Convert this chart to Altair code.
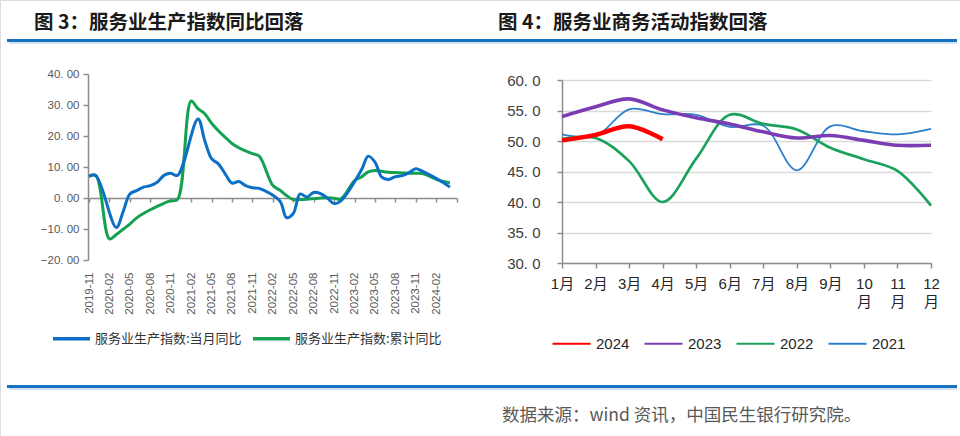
import altair as alt
import pandas as pd

# ---------------- Figure 3: services production index (YoY, %) ----------------
months = list(pd.period_range("2019-11", "2024-05", freq="M").strftime("%Y-%m"))
x_ticks = ["2019-11", "2020-02", "2020-05", "2020-08", "2020-11", "2021-02",
           "2021-05", "2021-08", "2021-11", "2022-02", "2022-05", "2022-08",
           "2022-11", "2023-02", "2023-05", "2023-08", "2023-11", "2024-02"]
axis_end = "2024-05"
y_ticks_left = [-20, -10, 0, 10, 20, 30, 40]

# 当月同比 (no Jan/Feb single-month values)
cur = [7.0, 7.2, None, None, -9.5, -4.5, 1.3, 2.4, 3.5, 4.0, 5.1, 7.3,
       8.0, 7.3, None, None, 25.5, 18.5, 12.7, 11.0, 7.8, 4.8, 5.3, 4.0,
       3.3, 3.1, None, None, -0.9, -6.3, -5.0, 1.3, 0.3, 1.8, 1.4, 0.0,
       -1.8, -0.9, None, None, 9.0, 13.5, 11.6, 6.7, 6.0, 6.9, 7.2, 8.2,
       9.4, 8.6, None, None, 5.0, 3.5, None]
# 累计同比
cum = [7.0, 7.3, None, -13.2, -11.8, -10.1, -8.4, -6.4, -5.0, -3.8, -2.7, -1.7,
       -0.9, -0.5, None, 31.3, 28.8, 27.2, 24.1, 21.7, 19.6, 17.6, 16.2, 15.2,
       14.3, 13.5, None, 4.0, 2.6, 0.8, -0.5, -0.5, -0.4, -0.2, 0.0, 0.1,
       -0.1, -0.3, None, 5.6, 6.8, 8.4, 8.9, 8.6, 8.3, 8.2, 8.1, 8.0,
       8.0, 7.9, None, 6.0, 5.3, 4.9, None]
series_left = ["服务业生产指数:当月同比", "服务业生产指数:累计同比"]
colors_left = ["#0B6FC6", "#14A152"]

# ---------------- Figure 4: services business activity index ----------------
month_labels = ["1月", "2月", "3月", "4月", "5月", "6月",
                "7月", "8月", "9月", "10月", "11月", "12月"]
years = ["2024", "2023", "2022", "2021"]
v2024 = [50.1, 51.0, 52.4, 50.3]
v2023 = [54.0, 55.6, 56.9, 55.1, 53.8, 52.8, 51.5, 50.5, 50.9, 50.1, 49.3, 49.3]
v2022 = [50.3, 50.5, 46.7, 40.0, 47.1, 54.3, 52.8, 51.9, 48.9, 47.0, 45.1, 39.4]
v2021 = [51.1, 50.8, 55.2, 54.4, 54.3, 52.3, 52.5, 45.2, 52.4, 51.6, 51.1, 52.0]
colors_right = ["#FF0000", "#7B3DB3", "#1AA25C", "#2C7FCB"]
widths_right = [4.5, 1.8, 1.8, 1.8]
y_ticks_right = [30, 35, 40, 45, 50, 55, 60]

title_left = "图 3：服务业生产指数同比回落"
title_right = "图 4：服务业商务活动指数回落"
source_note = "数据来源：wind 资讯，中国民生银行研究院。"

# ---------------- tables ----------------
rows = []
for name, vals in zip(series_left, [cur, cum]):
    for m, v in zip(months, vals):
        if v is not None:
            rows.append({"month": m, "series": name, "value": v})
left_df = pd.DataFrame(rows)

rows = []
for yr, vals in zip(["2021", "2022", "2023", "2024"], [v2021, v2022, v2023, v2024]):
    for m, v in zip(month_labels, vals):
        rows.append({"month": m, "year": yr, "value": v})
right_df = pd.DataFrame(rows)

CJK = "Noto Sans CJK SC"
LAT = "Liberation Sans, Noto Sans CJK SC"
H = 436

# ---------------- left chart ----------------
x_left = alt.X(
    "month:O",
    scale=alt.Scale(type="point", domain=months, range=[89, 456.7], padding=0),
    axis=alt.Axis(orient="bottom", offset=198 - H, values=x_ticks + [axis_end],
                  labelExpr=f"datum.value == '{axis_end}' ? '' : datum.value",
                  labelAngle=-90, labelPadding=70, tickSize=4, tickWidth=1.5,
                  domainWidth=1.5, domainColor="#8c8c8c", tickColor="#8c8c8c",
                  labelColor="#595959", labelFont=LAT, labelFontSize=11.5,
                  labelOverlap=False, grid=False, title=None),
)
y_left = alt.Y(
    "value:Q",
    scale=alt.Scale(domain=[-20, 40], range=[260, 74], nice=False, zero=False),
    axis=alt.Axis(orient="left", offset=-88, values=y_ticks_left,
                  labelExpr="replace(format(datum.value, '.2f'), '.', '. ')",
                  tickSize=5, tickWidth=1.5, domainWidth=1.5, labelPadding=4,
                  domainColor="#8c8c8c", tickColor="#8c8c8c",
                  labelColor="#595959", labelFont=LAT, labelFontSize=11.5,
                  grid=False, title=None),
)
color_left = alt.Color(
    "series:N",
    scale=alt.Scale(domain=series_left, range=colors_left),
    legend=alt.Legend(orient="none", legendX=51, legendY=318, direction="horizontal",
                      title=None, symbolType="stroke", symbolSize=1369,
                      symbolStrokeWidth=3.5, labelFont=CJK, labelFontSize=13,
                      labelColor="#333333", labelOffset=3, columnPadding=4,
                      padding=0),
)
base_left = alt.Chart(left_df).mark_line(strokeWidth=3, interpolate="catmull-rom").encode(
    x=x_left, y=y_left, color=color_left
)
left = alt.layer(
    base_left.transform_filter(alt.datum.series == series_left[1]),
    base_left.transform_filter(alt.datum.series == series_left[0]),
)

# ---------------- right chart ----------------
right = alt.Chart(right_df).mark_line(interpolate="catmull-rom").encode(
    x=alt.X("month:O",
            scale=alt.Scale(type="point", domain=month_labels, range=[562, 931], padding=0),
            axis=alt.Axis(orient="bottom", offset=263 - H, labelAngle=0,
                          labelExpr="length(datum.value) > 2 ? [slice(datum.value, 0, 2), '月'] : datum.value",
                          labelLineHeight=18, tickSize=5, tickWidth=1.5, domainWidth=1.5,
                          labelPadding=8, domainColor="#8c8c8c", tickColor="#8c8c8c",
                          labelColor="#262626", labelFont=LAT, labelFontSize=15,
                          labelOverlap=False, grid=False, title=None)),
    y=alt.Y("value:Q",
            scale=alt.Scale(domain=[30, 60], range=[263, 80], nice=False, zero=False),
            axis=alt.Axis(orient="left", offset=-562, values=y_ticks_right,
                          labelExpr="replace(format(datum.value, '.1f'), '.', '. ')",
                          grid=True, gridColor="#d9d9d9", gridWidth=1.5,
                          tickSize=5, tickWidth=1.5, domainWidth=1.5, labelPadding=17,
                          domainColor="#8c8c8c", tickColor="#8c8c8c",
                          labelColor="#404040", labelFont=LAT, labelFontSize=15,
                          title=None)),
    color=alt.Color("year:N", scale=alt.Scale(domain=years, range=colors_right),
                    legend=alt.Legend(orient="none", legendX=551, legendY=323,
                                      direction="horizontal", title=None,
                                      symbolType="stroke", symbolSize=1444,
                                      symbolStrokeWidth=2.2,
                                      labelFont=LAT, labelFontSize=15,
                                      labelColor="#262626", labelOffset=4,
                                      columnPadding=10, padding=0)),
    strokeWidth=alt.StrokeWidth("year:N", scale=alt.Scale(domain=years, range=widths_right),
                                legend=None),
)

# ---------------- decorations ----------------
one = pd.DataFrame({"k": [0]})
rule_top = alt.Chart(one).mark_rule(color="#1671C3", strokeWidth=3).encode(
    x=alt.value(7), x2=alt.value(957), y=alt.value(40.5))
rule_top_sh = alt.Chart(one).mark_rule(color="#d3e2f2", strokeWidth=2).encode(
    x=alt.value(9), x2=alt.value(957), y=alt.value(43))
rule_bot = alt.Chart(one).mark_rule(color="#1671C3", strokeWidth=3).encode(
    x=alt.value(7), x2=alt.value(957), y=alt.value(386.5))
rule_bot_sh = alt.Chart(one).mark_rule(color="#d3e2f2", strokeWidth=2).encode(
    x=alt.value(9), x2=alt.value(957), y=alt.value(389))
t_left = alt.Chart(one).mark_text(align="left", baseline="alphabetic", font=CJK,
                                  fontSize=19.5, fontWeight="bold", color="#1a1a1a").encode(
    x=alt.value(34), y=alt.value(29), text=alt.value(title_left))
t_right = alt.Chart(one).mark_text(align="left", baseline="alphabetic", font=CJK,
                                   fontSize=19.5, fontWeight="bold", color="#1a1a1a").encode(
    x=alt.value(498), y=alt.value(29), text=alt.value(title_right))
t_src = alt.Chart(one).mark_text(align="left", baseline="alphabetic", font=CJK,
                                 fontSize=17.5, color="#595959").encode(
    x=alt.value(502), y=alt.value(421), text=alt.value(source_note))

chart = alt.layer(
    left, right, rule_top_sh, rule_top, rule_bot_sh, rule_bot, t_left, t_right, t_src
).resolve_scale(
    x="independent", y="independent", color="independent"
).properties(
    width=960, height=436, padding=0,
    autosize=alt.AutoSizeParams(type="none"),
).configure_view(stroke=None).configure(background="white")

chart.save("out.html", embed_options={"renderer": "svg", "actions": False})
